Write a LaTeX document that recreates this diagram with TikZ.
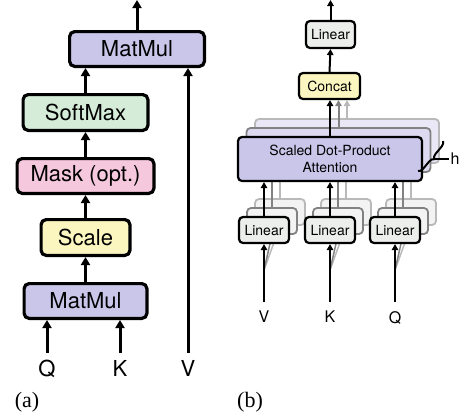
\documentclass[tikz,border=0pt]{standalone}
\usepackage{fontspec}
\setmainfont{TeX Gyre Heros}
\newfontfamily\capfont{Liberation Serif}
\usetikzlibrary{arrows.meta,decorations.pathreplacing}
\definecolor{mmcol}{RGB}{202,198,234}
\definecolor{smcol}{RGB}{212,236,216}
\definecolor{mkcol}{RGB}{246,200,221}
\definecolor{sccol}{RGB}{251,246,192}
\definecolor{lincol}{RGB}{236,238,236}
\definecolor{mmcolB}{RGB}{220,217,240}
\definecolor{mmcolC}{RGB}{234,232,246}
\definecolor{lincolB}{RGB}{242,243,242}
\definecolor{grayB}{RGB}{130,130,130}
\definecolor{grayC}{RGB}{185,185,185}
\begin{document}
\begin{tikzpicture}[x=1pt,y=-1pt,
  abox/.style={draw=black, line width=3.2pt, rounded corners=5pt, inner sep=0pt,
    minimum height=34.8pt, font=\fontsize{22}{24}\selectfont},
  aarr/.style={line width=3pt, -{Triangle[length=8pt,width=9pt]}},
  alab/.style={inner sep=0pt, anchor=north, font=\fontsize{22}{24}\selectfont},
  bbox/.style={draw=black, line width=2.2pt, rounded corners=4pt, inner sep=0pt,
    font=\fontsize{14}{16}\selectfont, align=center},
  bboxB/.style={bbox, draw=grayB, line width=1.8pt},
  bboxC/.style={bbox, draw=grayC, line width=1.8pt},
  barr/.style={line width=2pt, -{Triangle[length=6pt,width=6.5pt]}},
  blab/.style={inner sep=0pt, anchor=north, font=\fontsize{16}{18}\selectfont},
  caption/.style={inner sep=0pt, font=\capfont\fontsize{22}{24}\selectfont}
]
\useasboundingbox (0,0) rectangle (474,416);

% ---------- panel (a)
\node[abox, fill=mmcol, minimum width=134.8pt] (mmtop) at (137,49) {MatMul};
\node[abox, fill=smcol, minimum width=124.8pt, minimum height=35.8pt] (sm) at (85.5,112.5) {SoftMax};
\node[abox, fill=mkcol, minimum width=136.8pt] (mk) at (85.5,176) {Mask (opt.)};
\node[abox, fill=sccol, minimum width=88.8pt, minimum height=35.8pt] (sc) at (85.5,237.5) {Scale};
\node[abox, fill=mmcol, minimum width=122.8pt] (mmbot) at (85.5,301) {MatMul};

\node[alab] (qa) at (47,360) {Q};
\node[alab] (ka) at (120,360) {K};
\node[alab] (va) at (188,360) {V};
\coordinate (outa) at (137,0);

\draw[aarr] ([yshift=7pt]qa.north) -- (qa.north |- mmbot.south);
\draw[aarr] ([yshift=7pt]ka.north) -- (ka.north |- mmbot.south);
\draw[aarr] ([yshift=7pt]va.north) -- (va.north |- mmtop.south);
\draw[aarr] (mmbot.north) -- (sc.south);
\draw[aarr] (sc.north) -- (mk.south);
\draw[aarr] (mk.north) -- (sm.south);
\draw[aarr] (sm.north) -- (sm.north |- mmtop.south);
\draw[aarr] (mmtop.north) -- (outa);

\node[caption] (capa) at (27,402) {(a)};

% ---------- panel (b)
\node[bbox, fill=lincol, minimum width=49pt, minimum height=27pt] (lintop) at (330.5,34.5) {Linear};
\node[bbox, fill=sccol, minimum width=61pt, minimum height=26pt] (concat) at (329.5,86) {Concat};
\coordinate (outb) at (330.5,0);

% attention stack
\node[bboxC, fill=mmcolC, minimum width=184pt, minimum height=44pt] (sdpaC) at (347,141) {};
\node[bboxB, fill=mmcolB, minimum width=184pt, minimum height=44pt] (sdpaB) at (338.5,150) {};
\draw[barr, grayC] (sdpaC.north) -- (sdpaC.north |- concat.south);
\draw[barr, grayB] (sdpaB.north) -- (sdpaB.north |- concat.south);

% gray lines from shadow linears
\foreach \n/\x in {v/264, k/330, q/395}{
  \node[bboxC, fill=lincolB, minimum width=50pt, minimum height=26pt] (lin\n C) at (\x+16,212) {};
  \node[bboxB, fill=lincolB, minimum width=50pt, minimum height=26pt] (lin\n B) at (\x+8,221) {};
}
\foreach \n in {v,k,q}{
  \draw[line width=1.8pt, grayC] (lin\n C.north) -- (lin\n C.north |- sdpaC.south);
  \draw[line width=1.8pt, grayB] (lin\n B.north) -- (lin\n B.north |- sdpaB.south);
}

\node[bbox, fill=mmcol, minimum width=184pt, minimum height=44pt] (sdpa) at (330,159)
  {Scaled Dot-Product\\[1pt]Attention};
\draw[barr] (sdpa.north) -- (sdpa.north |- concat.south);
\draw[barr] (concat.north) -- (lintop.south);
\draw[barr] (lintop.north) -- (outb);

% inputs
\node[blab] (vb) at (264,311) {V};
\node[blab] (kb) at (330,311) {K};
\node[blab] (qb) at (395,311) {Q};
\foreach \n/\x in {v/264, k/330, q/395}{
  \coordinate (split\n) at (\x,270);
  \draw[line width=1.5pt, grayC] (split\n) -- (lin\n C.south);
  \draw[line width=1.5pt, grayB] (split\n) -- (lin\n B.south);
  \node[bbox, fill=lincol, minimum width=50pt, minimum height=26pt] (lin\n) at (\x,230) {Linear};
  \draw[barr] (lin\n.north) -- (lin\n.north |- sdpa.south);
  \draw[barr] ([yshift=9pt]\n b.north) -- (lin\n.south);
}

% brace and h
\coordinate (brtop) at (443,141);
\coordinate (brbot) at (418,171);
\draw[line width=2pt, decorate, decoration={brace, amplitude=5pt}] (brtop) -- (brbot);
\coordinate (brtip) at (434,159);
\node[inner sep=1.5pt, anchor=west, font=\fontsize{16}{18}\selectfont] (hlab) at (449,159) {h};
\draw[line width=1.6pt] (brtip) -- (hlab.west);

\node[caption] (capb) at (250,402) {(b)};
\end{tikzpicture}
\end{document}
